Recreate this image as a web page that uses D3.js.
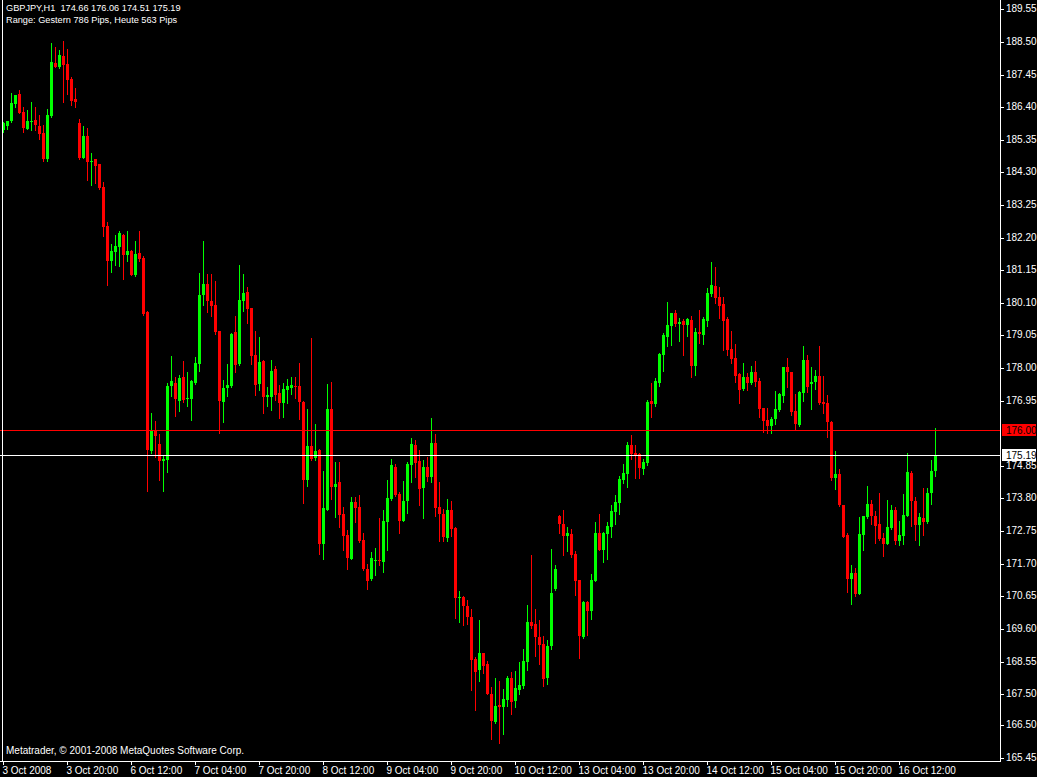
<!DOCTYPE html>
<html><head><meta charset="utf-8">
<script src="https://cdn.jsdelivr.net/npm/d3@7"></script>
<style>html,body{margin:0;padding:0;background:#000;overflow:hidden}svg{display:block}</style>
</head><body>
<svg id="chart" width="1037" height="777"></svg>
<script>
const titleText = "GBPJPY,H1  174.66 176.06 174.51 175.19";
const rangeText = "Range: Gestern 786 Pips, Heute 563 Pips";
const copyrightText = "Metatrader, \u00A9 2001-2008 MetaQuotes Software Corp.";

const opens = [185.66,185.79,185.95,186.50,186.82,186.24,185.70,185.93,185.99,185.79,185.57,184.73,186.12,187.82,187.69,188.05,187.79,187.31,186.66,185.89,
184.76,185.47,184.65,184.73,184.57,183.83,182.57,181.45,181.74,181.90,182.28,181.64,181.77,180.99,181.70,181.54,179.80,175.33,176.00,175.55,
175.01,175.04,177.42,177.52,176.94,177.71,177.02,177.00,177.52,178.13,180.35,180.70,180.16,180.03,179.19,176.91,177.36,177.42,179.16,178.13,
180.16,180.45,179.93,178.42,177.49,178.23,177.07,177.07,177.97,177.20,176.87,177.29,177.36,177.42,177.42,176.91,174.39,175.49,175.10,175.36,
172.33,173.43,176.68,174.17,174.33,173.30,172.62,171.85,173.69,173.52,172.46,171.53,171.21,171.80,171.82,171.75,173.04,173.78,174.81,173.94,
173.07,173.72,174.88,175.52,175.01,174.14,174.81,174.49,175.58,173.52,173.30,172.53,173.43,172.85,170.59,170.63,170.34,169.98,168.63,168.28,
168.82,168.47,167.50,166.60,167.15,167.09,167.31,168.02,167.28,167.63,167.76,168.53,169.82,169.76,169.34,169.11,168.02,169.05,170.88,173.23,
172.98,172.59,172.65,172.01,171.17,169.34,170.47,170.18,171.14,172.69,172.14,172.65,172.88,173.36,173.65,174.39,174.59,175.52,175.26,175.23,
174.75,174.94,176.94,176.84,177.52,178.42,179.00,179.35,179.77,179.42,179.51,179.38,179.55,178.06,179.16,179.06,179.51,180.38,180.64,180.29,
180.06,179.58,178.61,178.32,177.81,177.32,177.71,177.52,177.87,177.58,176.71,176.33,176.13,176.36,176.65,177.10,178.03,177.87,176.62,176.17,
177.20,178.26,177.49,177.55,177.74,176.91,176.87,176.26,174.46,174.59,173.59,172.62,171.21,171.40,170.72,172.62,173.20,173.62,173.23,172.98,
172.53,172.33,172.85,173.43,172.43,172.59,173.23,174.62,173.72,172.94,173.17,173.04,173.97,174.66];
const highs = [185.92,185.95,186.86,186.79,186.95,186.40,186.31,186.57,186.40,186.15,185.83,186.34,188.47,188.34,188.24,188.53,188.27,187.37,187.02,186.02,
185.79,185.73,184.92,184.73,184.57,183.99,182.70,181.99,182.28,182.41,182.31,182.41,181.80,182.09,182.41,181.61,179.84,176.55,176.29,175.87,
175.20,177.52,178.39,177.71,177.77,178.23,177.87,177.61,178.35,181.06,182.09,181.03,181.03,180.80,179.19,177.61,178.13,179.13,179.67,181.32,
181.03,180.61,179.93,179.19,179.00,178.26,177.39,178.26,178.06,177.45,177.52,177.65,177.71,177.71,178.16,176.94,176.68,178.97,176.20,175.39,
174.68,177.49,177.55,174.97,174.97,173.52,172.78,173.85,173.85,173.91,172.69,171.69,172.07,172.20,173.17,173.43,174.39,175.07,174.91,174.01,
174.36,174.97,175.75,175.68,175.36,175.04,175.13,176.39,175.87,174.33,173.46,173.78,173.72,172.88,170.82,170.66,170.53,170.24,168.69,169.89,
168.82,168.57,167.73,168.02,167.92,167.66,168.08,168.21,168.24,168.53,168.95,170.37,171.98,170.24,169.89,169.37,169.24,172.17,171.66,173.27,
173.43,172.88,172.82,172.11,171.17,170.50,170.50,171.37,173.04,173.30,172.72,173.04,173.59,173.91,174.52,174.91,175.62,175.84,175.52,175.26,
175.07,176.97,177.52,177.68,178.48,179.13,180.13,179.77,179.87,179.61,179.58,179.61,179.67,179.29,179.87,179.64,180.58,181.41,181.25,180.61,
180.29,179.64,179.19,178.77,177.84,178.16,177.84,178.06,178.23,177.68,176.71,176.71,176.42,177.26,177.20,178.03,178.32,177.87,177.16,177.26,
178.71,178.42,178.03,177.94,178.71,177.74,177.13,176.29,175.33,174.75,173.59,172.69,171.66,171.56,173.20,173.23,174.20,173.75,173.40,173.97,
172.69,173.75,173.59,173.52,173.07,173.94,175.26,174.68,173.85,173.33,174.14,174.14,175.04,176.06];
const lows = [185.60,185.70,185.92,186.40,186.21,185.60,185.70,185.66,185.66,185.37,184.67,184.67,186.08,187.69,187.66,186.57,186.82,186.47,186.40,184.73,
184.76,184.05,183.89,183.96,183.76,182.25,180.67,181.09,181.32,181.28,180.87,181.45,180.99,180.96,181.45,179.71,174.04,175.26,175.13,174.39,
174.04,174.65,177.10,176.45,176.62,176.91,176.78,176.33,177.49,177.90,180.03,179.80,179.67,179.09,175.91,176.26,177.10,177.39,177.87,178.10,
179.84,179.45,178.13,177.13,177.29,176.55,176.78,176.65,176.97,176.39,176.42,176.87,177.16,177.03,176.36,173.65,174.20,175.04,175.04,172.01,
171.85,173.43,173.78,173.20,172.88,172.14,171.53,171.85,173.04,172.40,171.50,170.88,171.17,171.34,171.66,171.43,172.14,173.75,173.88,172.69,
173.07,173.33,174.33,174.49,173.59,173.17,174.36,174.33,173.23,172.43,172.43,172.43,172.59,169.95,169.82,169.73,169.76,167.63,166.99,167.92,
168.18,167.50,166.05,166.57,165.92,166.21,167.12,166.86,167.09,167.50,167.70,168.28,169.63,168.73,168.47,167.76,167.83,168.95,170.85,172.69,
171.98,172.11,171.91,170.69,168.66,169.31,169.40,169.92,171.14,172.14,171.75,171.85,172.56,172.98,173.30,174.30,174.17,175.07,174.46,174.46,
174.59,174.88,176.42,176.78,177.42,177.90,178.71,178.74,179.35,178.87,178.42,179.03,177.71,177.77,178.81,178.77,179.35,180.32,180.09,179.61,
178.58,178.42,178.16,177.55,176.87,177.29,177.29,177.49,177.42,176.42,175.94,175.91,175.91,176.20,176.62,176.91,177.39,176.49,176.03,176.13,
176.94,177.23,176.68,177.32,176.84,176.55,175.78,174.39,174.10,173.56,172.56,170.79,170.40,170.66,170.72,172.14,173.17,172.98,172.37,172.46,
171.95,172.33,172.82,172.33,172.30,172.33,173.23,172.91,172.46,172.30,172.62,173.01,173.62,174.51];
const closes = [185.89,185.95,186.53,186.79,186.21,185.73,185.95,185.95,185.83,185.54,184.73,186.15,187.85,187.69,188.08,187.76,187.27,186.60,186.57,184.76,
185.47,184.63,184.67,184.50,183.80,182.54,181.45,181.77,181.93,182.35,181.64,181.77,180.99,181.67,181.51,179.74,175.36,175.97,175.81,175.01,
175.07,177.42,177.58,177.00,177.68,176.97,177.03,177.58,178.16,180.35,180.70,180.16,180.00,179.16,176.94,177.36,177.45,179.09,178.10,180.19,
180.42,179.90,178.39,177.45,178.19,177.07,177.13,177.90,177.13,176.87,177.32,177.42,177.45,177.39,176.91,174.39,175.49,175.07,175.33,172.33,
173.49,176.68,174.17,174.26,173.27,172.59,171.88,173.69,173.49,172.43,171.53,171.14,171.88,171.82,171.80,173.07,173.81,174.88,173.91,173.07,
173.72,174.91,175.55,174.94,174.10,174.81,174.49,175.58,173.49,173.30,172.56,173.43,172.82,170.59,170.63,170.34,169.98,168.60,168.21,168.82,
168.41,167.50,166.63,167.12,167.09,167.34,168.02,167.25,167.70,167.79,168.57,169.82,169.69,169.34,169.08,167.99,169.05,170.76,171.53,172.98,
172.59,172.69,171.98,171.14,169.37,170.47,170.18,171.17,172.69,172.14,172.69,172.91,173.40,173.69,174.43,174.62,175.52,175.23,175.20,174.78,
174.97,176.91,176.84,177.58,178.45,179.06,179.38,179.77,179.42,179.48,179.38,179.58,178.06,179.16,179.09,179.58,180.42,180.67,180.25,180.00,
179.51,178.58,178.29,177.74,177.29,177.71,177.52,177.87,177.55,176.68,176.29,176.13,176.36,176.68,177.16,178.03,177.87,176.58,176.20,177.23,
178.26,177.39,177.55,177.74,176.87,176.84,176.26,174.46,174.59,173.59,172.56,171.21,171.40,170.72,172.65,173.23,173.62,173.23,172.91,172.49,
172.33,172.88,173.43,172.43,172.62,173.27,174.65,173.72,172.94,173.20,173.04,173.97,174.68,175.19];

const priceTicks = [189.55,188.50,187.45,186.40,185.35,184.30,183.25,182.20,181.15,180.10,179.05,178.00,176.95,174.85,173.80,172.75,171.70,170.65,169.60,168.55,167.50,166.50,165.45];
const timeLabels = ["3 Oct 2008","3 Oct 20:00","6 Oct 12:00","7 Oct 04:00","7 Oct 20:00","8 Oct 12:00","9 Oct 04:00","9 Oct 20:00","10 Oct 12:00","13 Oct 04:00","13 Oct 20:00","14 Oct 12:00","15 Oct 04:00","15 Oct 20:00","16 Oct 12:00"];
const timeLabelBars = [0,16,32,48,64,80,96,112,128,144,160,176,192,208,224];
const userLine = 176.00;
const bidPrice = 175.19;

const W = 1037, H = 777;
const plotRight = 1000, plotBottom = 761;
const svg = d3.select("#chart");
svg.append("rect").attr("width", W).attr("height", H).attr("fill", "#000");

const n = opens.length;
const x = d3.scaleLinear().domain([0, n - 1]).range([3.5, 3.5 + 4 * (n - 1)]);
const y = d3.scaleLinear().domain([165.475, 189.85]).range([757, 0]);
const FONT = "'Liberation Sans', Arial, sans-serif";

const data = d3.range(n).map(i => ({i, o: opens[i], h: highs[i], l: lows[i], c: closes[i]}));
const col = d => d.c >= d.o ? "#00ff00" : "#ff0000";

const g = svg.append("g");
g.selectAll("line.w").data(data).join("line")
  .attr("x1", d => x(d.i)).attr("x2", d => x(d.i))
  .attr("y1", d => Math.round(y(d.h))).attr("y2", d => Math.round(y(d.l)) + 1)
  .attr("stroke", col).attr("stroke-width", 1);
g.selectAll("rect.b").data(data).join("rect")
  .attr("x", d => x(d.i) - 1.5).attr("width", 3)
  .attr("y", d => Math.round(Math.min(y(d.o), y(d.c))))
  .attr("height", d => Math.max(1, Math.round(Math.abs(y(d.o) - y(d.c)))))
  .attr("fill", col);

svg.append("line").attr("x1", 0).attr("x2", plotRight).attr("y1", Math.round(y(userLine)) + 0.5).attr("y2", Math.round(y(userLine)) + 0.5).attr("stroke", "#ff0000");
svg.append("line").attr("x1", 0).attr("x2", plotRight).attr("y1", Math.round(y(bidPrice)) + 0.5).attr("y2", Math.round(y(bidPrice)) + 0.5).attr("stroke", "#ffffff");

svg.append("line").attr("x1", 2.5).attr("x2", 2.5).attr("y1", 0).attr("y2", plotBottom).attr("stroke", "#fff");
svg.append("line").attr("x1", plotRight + 0.5).attr("x2", plotRight + 0.5).attr("y1", 0).attr("y2", plotBottom + 1).attr("stroke", "#fff");
svg.append("line").attr("x1", 0).attr("x2", plotRight + 1).attr("y1", plotBottom + 0.5).attr("y2", plotBottom + 0.5).attr("stroke", "#fff");

const pa = svg.append("g");
pa.selectAll("line").data(priceTicks).join("line")
  .attr("x1", plotRight).attr("x2", plotRight + 4)
  .attr("y1", d => Math.round(y(d)) + 0.5).attr("y2", d => Math.round(y(d)) + 0.5).attr("stroke", "#fff");
pa.selectAll("text").data(priceTicks).join("text")
  .attr("x", plotRight + 6).attr("y", d => y(d) + 3)
  .attr("fill", "#fff").attr("font-family", FONT).attr("font-size", 10)
  .text(d => d.toFixed(2));

[[userLine, "#ff0000", "#000"], [bidPrice, "#ffffff", "#000"]].forEach(([p, bg, fg]) => {
  const yy = Math.round(y(p));
  svg.append("rect").attr("x", plotRight + 2).attr("y", yy - 6).attr("width", 34).attr("height", 12).attr("fill", bg);
  svg.append("text").attr("x", plotRight + 6).attr("y", yy + 3.5).attr("fill", fg)
    .attr("font-family", FONT).attr("font-size", 10).text(p.toFixed(2));
});

const ta = svg.append("g");
ta.selectAll("line").data(timeLabelBars).join("line")
  .attr("x1", d => x(d)).attr("x2", d => x(d))
  .attr("y1", plotBottom).attr("y2", plotBottom + 4).attr("stroke", "#fff");
ta.selectAll("text").data(timeLabels).join("text")
  .attr("x", (d, i) => x(timeLabelBars[i]) - 1).attr("y", plotBottom + 13)
  .attr("fill", "#fff").attr("font-family", FONT).attr("font-size", 10)
  .text(d => d);

svg.append("text").attr("x", 6).attr("y", 11).attr("fill", "#fff").attr("font-family", FONT).attr("font-size", 9.2).attr("xml:space", "preserve").text(titleText);
svg.append("text").attr("x", 6).attr("y", 23).attr("fill", "#fff").attr("font-family", FONT).attr("font-size", 9.2).text(rangeText);
svg.append("text").attr("x", 6).attr("y", 754).attr("fill", "#fff").attr("font-family", FONT).attr("font-size", 10).text(copyrightText);
</script>
</body></html>
